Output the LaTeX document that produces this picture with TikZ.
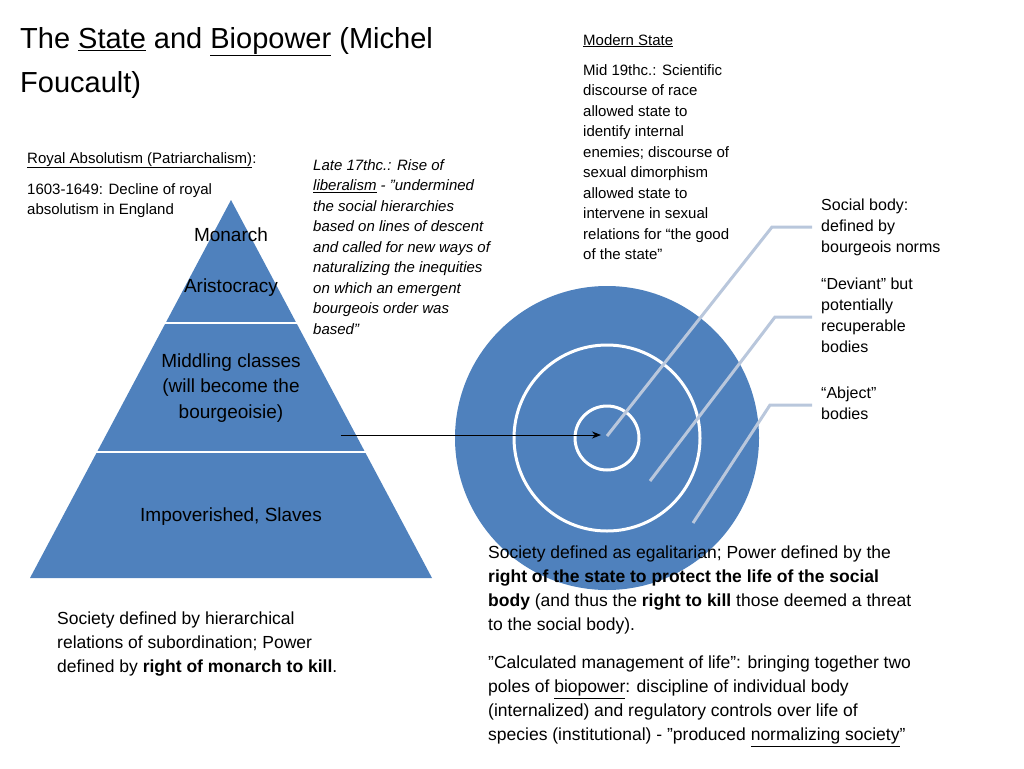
\documentclass[tikz,border=0pt]{standalone}
\usepackage{fontspec}
\setmainfont{Liberation Sans}
\usetikzlibrary{arrows.meta}
\definecolor{pblue}{HTML}{4F81BD}
\definecolor{lead}{HTML}{B9C7DC}
\begin{document}
\begin{tikzpicture}[x=1pt,y=-1pt,
  txt/.style={anchor=north west,inner sep=0pt,align=left},
  small/.style={txt,font=\fontsize{15}{20.5}\selectfont},
  body/.style={txt,font=\fontsize{17.5}{24}\selectfont},
  plab/.style={inner sep=0pt,align=center,font=\fontsize{19}{25.5}\selectfont},
  leader/.style={lead,line width=3pt}]
\useasboundingbox (0,0) rectangle (1024,768);
% title
\node[txt,font=\fontsize{29}{44}\selectfont] (title) at (20,27) {The \underline{State} and \underline{Biopower} (Michel\\Foucault)};
\node[small] (royal) at (27,152) {\underline{Royal Absolutism (Patriarchalism)}:};
\node[small] (decl) at (27,183) {1603-1649: Decline of royal\\absolutism in England};
\node[small,font=\fontsize{15}{20.5}\selectfont\itshape] (late) at (313,159) {Late 17thc.: Rise of\\\underline{liberalism} - "undermined\\the social hierarchies\\based on lines of descent\\and called for new ways of\\naturalizing the inequities\\on which an emergent\\bourgeois order was\\based"};
\node[small] (modern) at (583,34) {\underline{Modern State}};
\node[small] (mid) at (583,64) {Mid 19thc.: Scientific\\discourse of race\\allowed state to\\identify internal\\enemies; discourse of\\sexual dimorphism\\allowed state to\\intervene in sexual\\relations for “the good\\of the state”};
% pyramid
\fill[pblue] (231,200) -- (432,578) -- (30,578) -- cycle;
\draw[white,line width=2pt] (162,323) -- (300,323);
\draw[white,line width=2pt] (94,452) -- (368,452);
\node[plab] (monarch) at (231,235) {Monarch};
\node[plab] (aristo) at (231,288) {Aristocracy};
\node[plab] (middle) at (231,388) {Middling classes\\(will become the\\bourgeoisie)};
\node[plab] (poor) at (231,517) {Impoverished, Slaves};
% circles
\fill[pblue] (607,438) circle (152);
\draw[white,line width=3pt] (607,438) circle (93);
\draw[white,line width=3pt] (607,438) circle (32);
\coordinate (c) at (601,435);
\draw[-{Stealth[length=9pt,width=7pt]},line width=1pt] (middle.east |- c) ++(40,0) -- (c);
% leaders
\coordinate (l1) at (607,436); \coordinate (l1b) at (772,227); \coordinate (l1c) at (812,227);
\coordinate (l2) at (650,481); \coordinate (l2b) at (775,317); \coordinate (l2c) at (812,317);
\coordinate (l3) at (693,523); \coordinate (l3b) at (770,405); \coordinate (l3c) at (812,405);
\draw[leader] (l1) -- (l1b) -- (l1c);
\draw[leader] (l2) -- (l2b) -- (l2c);
\draw[leader] (l3) -- (l3b) -- (l3c);
\node[small,font=\fontsize{16}{21}\selectfont] (soc) at (821,199) {Social body:\\defined by\\bourgeois norms};
\node[small,font=\fontsize{16}{21}\selectfont] (dev) at (821,278) {“Deviant” but\\potentially\\recuperable\\bodies};
\node[small,font=\fontsize{16}{21}\selectfont] (abj) at (821,387) {“Abject”\\bodies};
% bottom texts
\node[body] (left) at (57,612) {Society defined by hierarchical\\relations of subordination; Power\\defined by \textbf{right of monarch to kill}.};
\node[body] (right1) at (488,546) {Society defined as egalitarian; Power defined by the\\\textbf{right of the state to protect the life of the social}\\\textbf{body} (and thus the \textbf{right to kill} those deemed a threat\\to the social body).};
\node[body] (right2) at (488,656) {"Calculated management of life": bringing together two\\poles of \underline{biopower}: discipline of individual body\\(internalized) and regulatory controls over life of\\species (institutional) - "produced \underline{normalizing society}"};
\end{tikzpicture}
\end{document}
